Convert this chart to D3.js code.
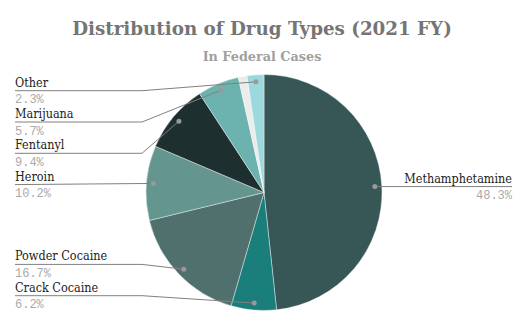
<!DOCTYPE html>
<html><head><meta charset="utf-8">
<script src="https://cdn.jsdelivr.net/npm/d3@7"></script>
<style>body{margin:0;background:#fff}svg{display:block}</style>
</head><body>
<svg id="c" width="528" height="327"></svg>
<script>
const categories = ["Methamphetamine","Crack Cocaine","Powder Cocaine","Heroin","Fentanyl","Marijuana","","Other"];
const values = [48.3, 6.2, 16.7, 10.2, 9.4, 5.7, 1.2, 2.3];
const colors = ["#365755","#1a7e7a","#50706e","#64968f","#1d2f2f","#6cb3b0","#ececec","#9bd9dc"];
const title = "Distribution of Drug Types (2021 FY)";
const subtitle = "In Federal Cases";

const svg = d3.select("#c");
const W = 528, H = 327;
const cx = 264, cy = 192.5, R = 118;
const labelFont = "'DejaVu Serif Condensed', 'DejaVu Serif', serif";

svg.append("text").attr("x", W/2 - 2).attr("y", 35).attr("text-anchor","middle")
  .attr("font-family","DejaVu Serif").attr("font-weight","bold").attr("font-size",18.3)
  .attr("fill","#757575").text(title);
svg.append("text").attr("x", W/2 - 2).attr("y", 61).attr("text-anchor","middle")
  .attr("font-family","DejaVu Serif").attr("font-weight","bold").attr("font-size",12.8)
  .attr("fill","#a0a0a0").text(subtitle);

const data = categories.map((c,i)=>({name:c, value:values[i], color:colors[i]}));
const pie = d3.pie().value(d=>d.value).sort(null);
const arcs = pie(data);
const arc = d3.arc().innerRadius(0).outerRadius(R);
const g = svg.append("g").attr("transform",`translate(${cx},${cy})`);
g.selectAll("path").data(arcs).join("path").attr("d",arc)
  .attr("fill",d=>d.data.color).attr("stroke","#ffffff").attr("stroke-opacity",0.5).attr("stroke-width",0.8);

const dotR = 111;
const labeled = arcs.filter(a=>a.data.name!=="");
labeled.forEach(a=>{
  const m = (a.startAngle+a.endAngle)/2;
  a.dx = cx + dotR*Math.sin(m);
  a.dy = cy - dotR*Math.cos(m);
  a.right = Math.sin(m) > 0;
});
const left = labeled.filter(a=>!a.right).sort((a,b)=>a.dy-b.dy);
const gap = 31.3, topMin = 90.7, botMax = 295.7;
left.forEach((a,i)=>{ a.ly = Math.max(a.dy, i? left[i-1].ly+gap : topMin, topMin); });
for(let i=left.length-1;i>=0;i--){ const a=left[i]; a.ly = Math.min(a.ly, i<left.length-1? left[i+1].ly-gap : botMax, botMax); }
labeled.filter(a=>a.right).forEach(a=>{ a.ly = a.dy; });

const lab = svg.append("g");
labeled.forEach(a=>{
  const pct = a.data.value.toFixed(1)+"%";
  let x, anchor, pts;
  if(a.right){
    x = 512; anchor = "end";
    pts = `${a.dx},${a.dy} ${x},${a.ly}`;
  } else {
    x = 15; anchor = "start";
    const xb = 142;
    pts = Math.abs(a.ly-a.dy)<2 ? `${x},${a.ly} ${a.dx},${a.dy}` : `${x},${a.ly} ${xb},${a.ly} ${a.dx},${a.dy}`;
  }
  lab.append("polyline").attr("points",pts)
    .attr("fill","none").attr("stroke","#808080").attr("stroke-width",1);
  lab.append("text").attr("x",x).attr("y",a.ly-4).attr("text-anchor",anchor)
    .attr("font-family",labelFont).attr("font-stretch","condensed").attr("font-size",12.5).attr("fill","#222").text(a.data.name);
  lab.append("text").attr("x",x).attr("y",a.ly+12.5).attr("text-anchor",anchor)
    .attr("font-family","Liberation Mono").attr("font-size",12).attr("fill","#aaaaaa").text(pct);
  lab.append("circle").attr("cx",a.dx).attr("cy",a.dy).attr("r",2.5).attr("fill","#999");
});
</script>
</body></html>
